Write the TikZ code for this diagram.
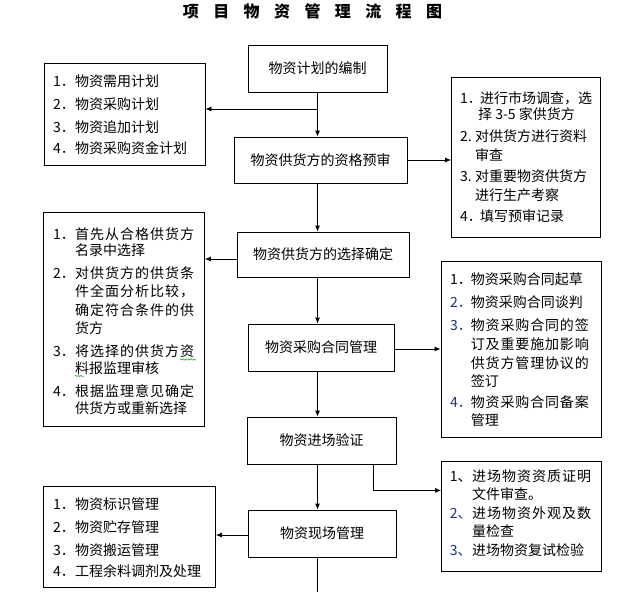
\documentclass[tikz,border=0pt]{standalone}
\usepackage{fontspec}
\setmainfont{Noto Sans CJK SC}
\usetikzlibrary{arrows.meta,decorations.pathmorphing}
\definecolor{numblue}{RGB}{30,50,120}
\definecolor{wavygreen}{RGB}{40,160,40}
\newcounter{tn}
\newcommand\T[3]{\stepcounter{tn}\node[txt] (t\thetn) at (#1,#2) {#3};}
\newcommand\J[1]{{\addfontfeature{LetterSpace=7}#1}}
\newcommand\Jd[1]{{\addfontfeature{LetterSpace=6}#1}}
\begin{document}
\begin{tikzpicture}[x=1pt,y=-1pt,
  every node/.style={font=\fontsize{14pt}{16pt}\selectfont},
  mbox/.style={draw,line width=0.8pt,inner sep=0pt,text height=11.5pt,text depth=1pt},
  sbox/.style={draw,line width=0.8pt,inner sep=0pt},
  txt/.style={anchor=west,inner sep=0pt,text height=11.5pt,text depth=1pt},
  arr/.style={-{Latex[length=6pt,width=5pt]},line width=0.8pt},
  plain/.style={line width=0.8pt},
  wavy/.style={wavygreen,line width=0.5pt,decorate,decoration={snake,amplitude=0.7pt,segment length=2.6pt}}]
\useasboundingbox (0,0) rectangle (618,592);

% title
\node[font=\fontsize{16pt}{18pt}\selectfont\bfseries,inner sep=0pt] (title) at (312.5,11.5)
  {项\hspace{14.4pt}目\hspace{14.4pt}物\hspace{14.4pt}资\hspace{14.4pt}管\hspace{14.4pt}理\hspace{14.4pt}流\hspace{14.4pt}程\hspace{14.4pt}图};

% main flow boxes
\node[mbox,minimum width=139pt,minimum height=47pt] (b1) at (317.5,68.5) {物资计划的编制};
\node[mbox,minimum width=173pt,minimum height=46pt] (b2) at (320.5,160) {物资供货方的资格预审};
\node[mbox,minimum width=172pt,minimum height=45pt] (b3) at (323,254.5) {物资供货方的选择确定};
\node[mbox,minimum width=146pt,minimum height=47pt] (b4) at (321,347.5) {物资采购合同管理};
\node[mbox,minimum width=149pt,minimum height=47pt] (b5) at (321.5,440.5) {物资进场验证};
\node[mbox,minimum width=148pt,minimum height=47pt] (b6) at (322,533.5) {物资现场管理};

% side boxes
\node[sbox,minimum width=161pt,minimum height=102pt] (A) at (124.5,114) {};
\node[sbox,minimum width=149.2pt,minimum height=160pt] (B) at (526.1,157) {};
\node[sbox,minimum width=161pt,minimum height=214pt] (C) at (124,319.5) {};
\node[sbox,minimum width=160pt,minimum height=176pt] (D) at (521,349) {};
\node[sbox,minimum width=159.5pt,minimum height=110pt] (E) at (521.25,516) {};
\node[sbox,minimum width=172.2pt,minimum height=101.5pt] (F) at (129.4,536.75) {};

% spine
\draw[arr] (b1.south) -- (b2.north -| b1.south);
\draw[arr] (b2.south -| b1.south) -- (b3.north -| b1.south);
\draw[arr] (b3.south -| b1.south) -- (b4.north -| b1.south);
\draw[arr] (b4.south -| b1.south) -- (b5.north -| b1.south);
\draw[arr] (b5.south -| b1.south) -- (b6.north -| b1.south);
\coordinate (bot) at (317.5,592);
\draw[plain] (b6.south -| b1.south) -- (bot);

% branches
\coordinate (jA) at (317.5,109);
\draw[arr] (jA) -- (jA -| A.east);
\draw[arr] (b2.east) -- (b2.east -| B.west);
\coordinate (jC) at ([yshift=-4.5pt]b3.west);
\draw[arr] (jC) -- (jC -| C.east);
\coordinate (jD) at ([yshift=-1.5pt]b4.east);
\draw[arr] (jD) -- (jD -| D.west);
\coordinate (jE0) at ([xshift=51.5pt]b5.south);
\coordinate (jE) at ([yshift=-26pt]jE0);
\draw[arr] (jE0) -- (jE) -- (jE -| E.west);
\coordinate (jF) at ([yshift=-1.5pt]b6.west);
\draw[arr] (jF) -- (jF -| F.east);

% box A
\T{53}{81}{1．}\T{75}{81}{物资需用计划}
\T{53}{104}{2．}\T{75}{104}{物资采购计划}
\T{53}{127}{3．}\T{75}{127}{物资追加计划}
\T{53}{148.5}{4．}\T{75}{148.5}{物资采购资金计划}

% box B
\T{460}{98.3}{1．}\T{480}{98.3}{进行市场调查，选}
\T{478}{114.3}{择 3-5 家供货方}
\T{460}{136.7}{2.}\T{475}{136.7}{对供货方进行资料}
\T{475}{155}{审查}
\T{460}{176.7}{3.}\T{475}{176.7}{对重要物资供货方}
\T{475}{195}{进行生产考察}
\T{460}{216.7}{4．}\T{480}{216.7}{填写预审记录}

% box C
\T{53}{234.3}{1．}\T{75}{234.3}{\J{首先从合格供货方}}
\T{75}{250.5}{名录中选择}
\T{53}{273.3}{2．}\T{75}{273.3}{\J{对供货方的供货条}}
\T{75}{291.7}{\J{件全面分析比较，}}
\T{75}{310}{\J{确定符合条件的供}}
\T{75}{328}{货方}
\T{53}{351.7}{3．}\T{75}{351.7}{\J{将选择的供货方资}}
\T{75}{368.3}{料报监理审核}
\T{53}{391}{4．}\T{75}{391}{\J{根据监理意见确定}}
\T{75}{408.3}{供货方或重新选择}
\draw[wavy] (180,359.5) -- (196,359.5);
\draw[wavy] (75,376) -- (84,376);

% box D
\T{450}{279.3}{1．}\T{470.7}{279.3}{物资采购合同起草}
\T{450}{302.7}{\textcolor{numblue}{2．}}\T{470.7}{302.7}{物资采购合同谈判}
\T{450}{325.7}{\textcolor{numblue}{3．}}\T{470.7}{325.7}{\Jd{物资采购合同的签}}
\T{470.7}{344.3}{\Jd{订及重要施加影响}}
\T{470.7}{363.3}{\Jd{供货方管理协议的}}
\T{470.7}{381}{签订}
\T{450}{402.3}{\textcolor{numblue}{4．}}\T{470.7}{402.3}{\Jd{物资采购合同备案}}
\T{470.7}{420}{管理}

% box E
\T{449.7}{476}{1、}\T{472}{476}{\J{进场物资资质证明}}
\T{472}{494.7}{文件审查。}
\T{449.7}{513}{\textcolor{numblue}{2、}}\T{472}{513}{\J{进场物资外观及数}}
\T{472}{531.7}{量检查}
\T{449.7}{550.7}{\textcolor{numblue}{3、}}\T{472}{550.7}{进场物资复试检验}

% box F
\T{53}{504}{1．}\T{75}{504}{物资标识管理}
\T{53}{527}{2．}\T{75}{527}{物资贮存管理}
\T{53}{550}{3．}\T{75}{550}{物资搬运管理}
\T{53}{571.7}{4．}\T{75}{571.7}{工程余料调剂及处理}
\end{tikzpicture}
\end{document}
